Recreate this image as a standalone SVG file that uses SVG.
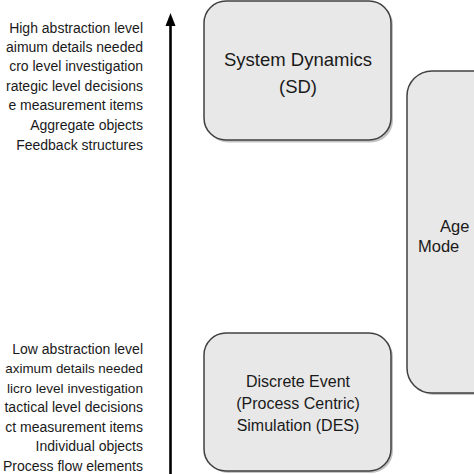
<svg xmlns="http://www.w3.org/2000/svg" width="474" height="474" viewBox="0 0 474 474">
<defs>
<style>
.lbl{font-family:"Liberation Sans",Arial,sans-serif;font-size:14px;fill:#1a1a1a;text-anchor:end}
.box{fill:#e8e8e8;stroke:#404040;stroke-width:1.5}
.shadow{fill:#c4c4c4}
.bt{font-family:"Liberation Sans",Arial,sans-serif;fill:#1a1a1a;text-anchor:middle}
.at{font-family:"Liberation Sans",Arial,sans-serif;font-size:16.5px;fill:#1a1a1a}
</style>
</defs>
<rect width="474" height="474" fill="#fff"/>
<g id="connectors">
<line x1="170.5" y1="474" x2="170.5" y2="25" stroke="#000" stroke-width="2.6"/>
<path d="M165.5,26 L170.5,13 L175.5,26 Z" fill="#000"/>
</g>
<g id="labels-high">
<text class="lbl" x="143" y="33">High abstraction level</text>
<text class="lbl" x="143" y="52">aimum details needed</text>
<text class="lbl" x="143" y="71">cro level investigation</text>
<text class="lbl" x="143" y="91">rategic level decisions</text>
<text class="lbl" x="143" y="110">e measurement items</text>
<text class="lbl" x="143" y="130">Aggregate objects</text>
<text class="lbl" x="143" y="150">Feedback structures</text>
</g>
<g id="labels-low">
<text class="lbl" x="143" y="354">Low abstraction level</text>
<text class="lbl" x="143" y="373" style="font-size:13.4px">aximum details needed</text>
<text class="lbl" x="143" y="393" style="font-size:13.6px">licro level investigation</text>
<text class="lbl" x="143" y="412">tactical level decisions</text>
<text class="lbl" x="143" y="432">ct measurement items</text>
<text class="lbl" x="143" y="451">Individual objects</text>
<text class="lbl" x="143" y="471">Process flow elements</text>
</g>
<g id="sd">
<rect class="shadow" x="206" y="3" width="187" height="139.5" rx="22"/>
<rect class="box" x="204" y="1" width="187" height="139" rx="22"/>
<text class="bt" x="298" y="66" font-size="18.5">System Dynamics</text>
<text class="bt" x="298" y="93" font-size="18.5">(SD)</text>
</g>
<g id="des">
<rect class="shadow" x="206" y="335" width="187" height="138" rx="22"/>
<rect class="box" x="204" y="333" width="187" height="138" rx="22"/>
<text class="bt" x="298" y="387" font-size="16">Discrete Event</text>
<text class="bt" x="298" y="409" font-size="16">(Process Centric)</text>
<text class="bt" x="298" y="431" font-size="16">Simulation (DES)</text>
</g>
<g id="abm">
<rect class="shadow" x="409" y="73" width="120" height="322" rx="25"/>
<rect class="box" x="407" y="71" width="120" height="322" rx="25"/>
<text class="at" x="440" y="232">Age</text>
<text class="at" x="418" y="252">Mode</text>
</g>
</svg>
